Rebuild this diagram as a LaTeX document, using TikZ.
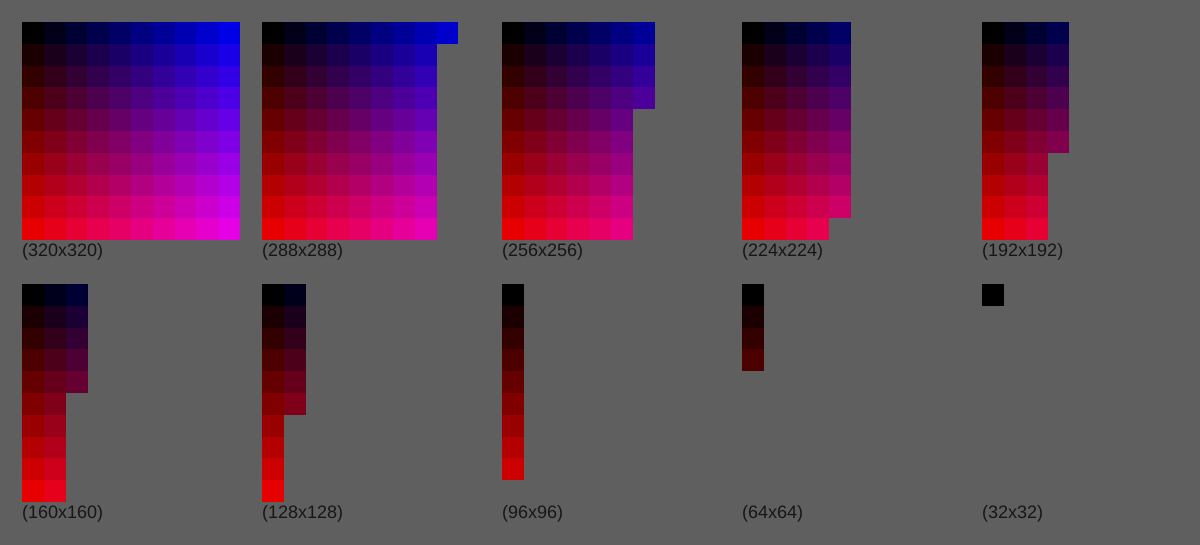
\documentclass[tikz,border=0pt]{standalone}
\usepackage{fontspec}
\setmainfont{Liberation Sans}
\usetikzlibrary{positioning}

\definecolor{bggray}{RGB}{95,95,95}
\definecolor{textgray}{RGB}{22,22,22}

\begin{document}
\begin{tikzpicture}[
  x=1pt, y=-1pt,
  font=\fontsize{18}{20}\selectfont,
  lbl/.style={anchor=base west, inner sep=0pt, text=textgray},
  cellsize/.store in=\cs, cellsize=21.8
]

\fill[bggray] (0,0) rectangle (1200,545);
\useasboundingbox (0,0) rectangle (1200,545);

% one panel per size, cells filled column by column, ten rows high
\foreach \k in {0,...,9} {
  \pgfmathtruncatemacro\n{10-\k}
  \pgfmathtruncatemacro\sz{32*\n}
  \pgfmathtruncatemacro\last{\n*\n-1}
  \pgfmathsetmacro\ox{22+240*mod(\k,5)}
  \pgfmathsetmacro\oy{22+262*floor(\k/5)}
  \foreach \i in {0,...,\last} {
    \pgfmathtruncatemacro\col{floor(\i/10)}
    \pgfmathtruncatemacro\row{mod(\i,10)}
    \pgfmathtruncatemacro\rr{round(25.5*\row)}
    \pgfmathtruncatemacro\bb{round(25.5*\col)}
    \definecolor{cellcol}{RGB}{\rr,0,\bb}
    \fill[cellcol]
      (\ox+\col*\cs,\oy+\row*\cs) rectangle ++(\cs+0.2,\cs+0.2);
  }
  \node[lbl] (size\k) at (\ox,\oy+234.5) {(\sz x\sz)};
}

\end{tikzpicture}
\end{document}
